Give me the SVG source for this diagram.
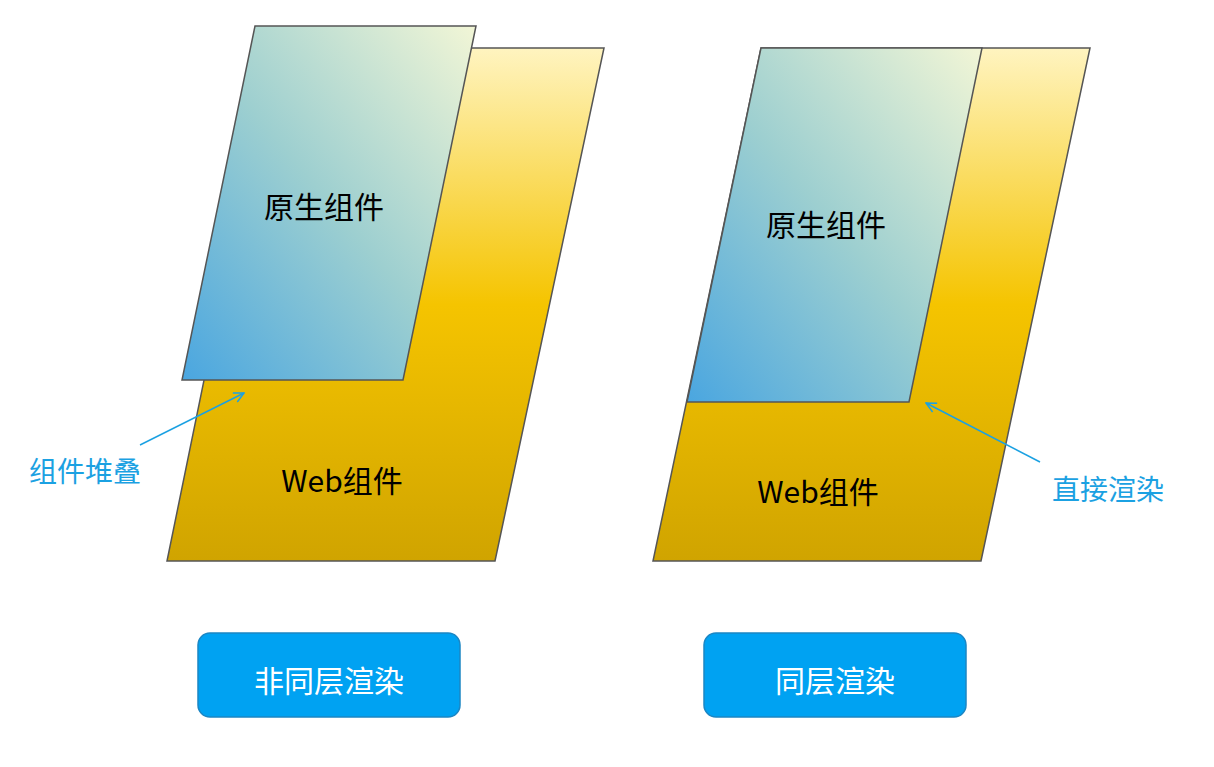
<svg xmlns="http://www.w3.org/2000/svg" width="1214" height="767" viewBox="0 0 1214 767">
<style>
text{font-family:"Noto Sans CJK SC","Liberation Sans",sans-serif;}
.lbl{font-size:30px;fill:#000;text-anchor:middle}
.note{font-size:28px;fill:#1ba1e2;text-anchor:middle}
.btn{fill:#00a2f2;stroke:#1b86c4;stroke-width:1.5}
.bt{font-size:30px;fill:#fff;text-anchor:middle}
.web{fill:url(#gy);stroke:#555;stroke-width:1.5}
.nat{fill:url(#gb);stroke:#555;stroke-width:1.5}
.conn{stroke:#1ba1e2;stroke-width:1.5;fill:none;marker-end:url(#ar)}
</style>
<defs>
<linearGradient id="gy" x1="0" y1="0" x2="0" y2="1">
<stop offset="0" stop-color="#fff4c0"/><stop offset="0.5" stop-color="#f5c400"/><stop offset="1" stop-color="#d0a400"/>
</linearGradient>
<linearGradient id="gb" x1="0" y1="1" x2="1" y2="0">
<stop offset="0" stop-color="#4aa6e0"/><stop offset="0.5" stop-color="#9dcfd0"/><stop offset="1" stop-color="#f2f6d6"/>
</linearGradient>
<marker id="ar" viewBox="0 0 12 12" refX="11" refY="6" markerWidth="12" markerHeight="12" orient="auto" markerUnits="userSpaceOnUse">
<path d="M1,1 L11,6 L1,11" fill="none" stroke="#1ba1e2" stroke-width="1.5"/>
</marker>
</defs>
<g id="web-left"><polygon class="web" points="272,48 604,48 495,561 167,561"/><text class="lbl" x="342" y="492">Web组件</text></g>
<g id="native-left"><polygon class="nat" points="255,26 476,26 403,380 182,380"/><text class="lbl" x="324" y="218">原生组件</text></g>
<g id="web-right"><polygon class="web" points="761,48 1090,48 981,561 653,561"/><text class="lbl" x="818" y="503">Web组件</text></g>
<g id="native-right"><polygon class="nat" points="761,48 982,48 909,402 687,402"/><text class="lbl" x="826" y="236">原生组件</text></g>
<g id="connectors">
<line class="conn" x1="140" y1="445" x2="244" y2="393"/>
<line class="conn" x1="1040" y1="462" x2="926" y2="403"/>
</g>
<g id="note-left"><text class="note" x="85" y="482">组件堆叠</text></g>
<g id="note-right"><text class="note" x="1108" y="500">直接渲染</text></g>
<g id="btn-left"><rect class="btn" x="198" y="633" width="262" height="84" rx="12"/><text class="bt" x="329" y="692">非同层渲染</text></g>
<g id="btn-right"><rect class="btn" x="704" y="633" width="262" height="84" rx="12"/><text class="bt" x="835" y="692">同层渲染</text></g>
</svg>
